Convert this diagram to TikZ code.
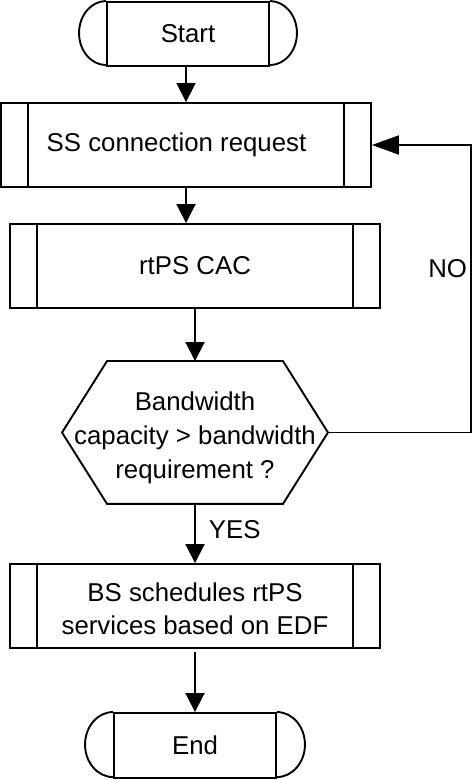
\documentclass[tikz,border=0pt]{standalone}
\usepackage{fontspec}
\setmainfont{Liberation Sans}
\usetikzlibrary{arrows.meta}
\begin{document}
\begin{tikzpicture}[x=1pt,y=1pt,line width=1.9pt,
  every node/.style={font=\fontsize{25.8}{33}\selectfont, inner sep=0pt, align=center},
  proc/.style={draw, rectangle, minimum width=370pt, minimum height=84pt},
  term/.style={draw, rectangle, minimum width=162pt, minimum height=64pt},
  arr/.style={-{Triangle[length=19pt,width=19pt]}},
  arrno/.style={-{Triangle[length=27pt,width=19pt]}}]
\useasboundingbox (0,0) rectangle (474,780);
\node[term] (st) at (188,746) {Start};
\node[proc] (ss) at (186,635) {\hspace*{-19pt}SS connection request};
\node[proc] (rt) at (195,514) {rtPS CAC};
\node[minimum width=264pt, minimum height=141pt,
  label={[yshift=-5pt, font=\fontsize{25.8}{34}\selectfont]center:Bandwidth\\capacity > bandwidth\\requirement ?}] (hx) at (195,347.5) {};
\node[proc, label={[yshift=-3pt]center:BS schedules rtPS\\services based on EDF}] (bs) at (195,174) {};
\node[term, minimum height=65pt] (en) at (195,34.5) {End};
% terminal caps
\draw (st.north west) arc[start angle=90,end angle=270,x radius=27pt,y radius=32pt];
\draw (st.north east) arc[start angle=90,end angle=-90,x radius=27pt,y radius=32pt];
\draw (en.north west) arc[start angle=90,end angle=270,x radius=28pt,y radius=32.5pt];
\draw (en.north east) arc[start angle=90,end angle=-90,x radius=28pt,y radius=32.5pt];
% process inner lines
\foreach \n in {ss,rt,bs} {
  \draw ([xshift=28pt]\n.north west) -- ([xshift=28pt]\n.south west);
  \draw ([xshift=-28pt]\n.north east) -- ([xshift=-28pt]\n.south east);
}
% hexagon
\draw (hx.west) -- ([xshift=45pt]hx.north west) -- ([xshift=-45pt]hx.north east) -- (hx.east) -- ([xshift=-45pt]hx.south east) -- ([xshift=45pt]hx.south west) -- cycle;
% connectors
\draw[arr] (st.south) ++(-2,0) coordinate (a0) -- (a0 |- ss.north);
\draw[arr] (ss.south) -- (ss.south |- rt.north);
\draw[arr] (rt.south) -- (hx.north);
\draw[arr] (hx.south) -- node[pos=0.44, right=13pt] {YES} (bs.north);
\draw[arr, shorten <=3pt] (bs.south) -- (en.north);
\coordinate (c1) at (471,347.5);
\coordinate (c2) at (471,635);
\draw[arrno] (hx.east) -- (c1) -- node[pos=0.57, left=3pt] {NO} (c2) -- (ss.east);
\end{tikzpicture}
\end{document}
